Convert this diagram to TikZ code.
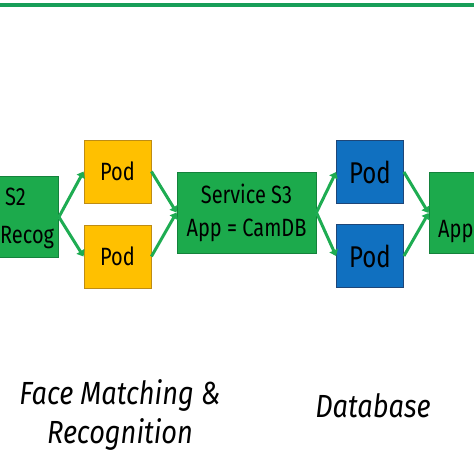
\documentclass[tikz,border=0pt]{standalone}
\usepackage{fontspec}
\setmainfont[FakeStretch=0.8]{Fira Sans}
\newfontfamily\tierfont[FakeStretch=0.85]{Fira Sans}
\usetikzlibrary{arrows.meta}

\definecolor{servicegreen}{RGB}{28,170,76}
\definecolor{servicerim}{RGB}{20,130,60}
\definecolor{flowgreen}{RGB}{30,172,82}
\definecolor{railgreen}{RGB}{24,158,88}
\definecolor{matchgold}{RGB}{255,192,0}
\definecolor{matchrim}{RGB}{190,140,20}
\definecolor{storeblue}{RGB}{16,112,192}
\definecolor{storerim}{RGB}{30,70,120}

\begin{document}
\begin{tikzpicture}[
    x=1pt,y=-1pt,font=\fontsize{25}{33}\selectfont,
    service/.style={draw=servicerim,fill=servicegreen,line width=.8pt,
        minimum width=139pt,minimum height=81pt,inner sep=0pt,align=center},
    service text/.style={inner sep=0pt},
    pod/.style={draw,line width=.8pt,minimum width=67pt,minimum height=63pt,
        inner sep=0pt},
    match pod/.style={pod,draw=matchrim,fill=matchgold},
    store pod/.style={pod,draw=storerim,fill=storeblue,
        font=\fontsize{30}{36}\selectfont},
    flow/.style={draw=flowgreen,line width=3pt,
        -{Triangle[length=6pt,width=9pt]}},
    tier label/.style={font=\tierfont\itshape\fontsize{32}{39}\selectfont,
        align=center}
]
    \useasboundingbox (0,0) rectangle (474,474);
    \clip (0,0) rectangle (474,474);

    % rail along the top edge
    \draw[railgreen,line width=4pt] (0,5) -- (474,5);

    % services; the outer two run past the frame
    \node[service] (s2) at (-11,217) {};
    \node[service text,anchor=base west] (s2name) at (5,205) {S2};
    \node[service text,anchor=base west] (s2app) at (0,243) {Recog};
    \node[service] (s3) at (246.5,212.5) {Service S3\\App = CamDB};
    \node[service,minimum width=142pt] (s4) at (500,213) {};
    \node[service text,anchor=base west] (s4app) at (438,237) {App};

    % pods: S2 -> S3 in gold, S3 -> S4 in blue
    \node[match pod] (m1) at (117.5,171.5) {Pod};
    \node[match pod] (m2) at (117.5,256.5) {Pod};
    \node[store pod] (d1) at (370,172) {Pod};
    \node[store pod] (d2) at (370,256) {Pod};

    \foreach \from/\to in {s2/m1,s2/m2,m1/s3,m2/s3,s3/d1,s3/d2,d1/s4,d2/s4}
        \draw[flow] (\from.east) -- (\to.west);

    % tier captions
    \node[tier label] (match tier) at (120,415) {Face Matching \&\\Recognition};
    \node[tier label,anchor=base] (store tier) at (373,417) {Database};
\end{tikzpicture}
\end{document}
